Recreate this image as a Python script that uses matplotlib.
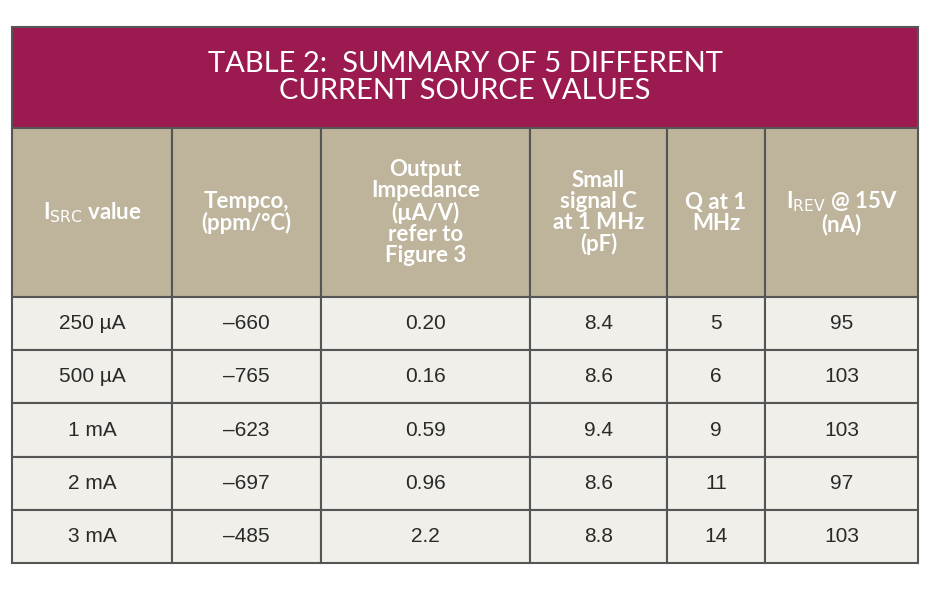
import matplotlib
matplotlib.use('Agg')
from matplotlib import pyplot as plt
from matplotlib.patches import Rectangle

title = 'TABLE 2:  SUMMARY OF 5 DIFFERENT\nCURRENT SOURCE VALUES'
headers = [r'I$_{\mathrm{SRC}}$ value', 'Tempco,\n(ppm/°C)', 'Output\nImpedance\n(µA/V)\nrefer to\nFigure 3',
           'Small\nsignal C\nat 1 MHz\n(pF)', 'Q at 1\nMHz', 'I$_{\\mathrm{REV}}$ @ 15V\n(nA)']
isrc = ['250 µA', '500 µA', '1 mA', '2 mA', '3 mA']
tempco = ['–660', '–765', '–623', '–697', '–485']
impedance = ['0.20', '0.16', '0.59', '0.96', '2.2']
cap = ['8.4', '8.6', '9.4', '8.6', '8.8']
q = ['5', '6', '9', '11', '14']
irev = ['95', '103', '103', '97', '103']
rows = list(zip(isrc, tempco, impedance, cap, q, irev))

col_x = [12, 172, 321, 530, 667, 765, 918]
top, title_bot, head_bot = 27, 128, 297
row_h = 53.2

fig = plt.figure(figsize=(9.44, 5.9), dpi=100)
ax = fig.add_axes([0, 0, 1, 1])
ax.set_xlim(0, 944)
ax.set_ylim(590, 0)
ax.axis('off')

line = '#555555'
ax.add_patch(Rectangle((col_x[0], top), col_x[-1] - col_x[0], title_bot - top, fc='#9b1a4f', ec=line, lw=1.5))
ax.text((col_x[0] + col_x[-1]) / 2, (top + title_bot) / 2, title, color='white', fontsize=21,
        family='Lato', ha='center', va='center', linespacing=1.05)

for i, h in enumerate(headers):
    ax.add_patch(Rectangle((col_x[i], title_bot), col_x[i + 1] - col_x[i], head_bot - title_bot,
                           fc='#bdb49b', ec=line, lw=1.5))
    ax.text((col_x[i] + col_x[i + 1]) / 2, (title_bot + head_bot) / 2, h, color='white', fontsize=16,
            family='Lato', weight='bold', ha='center', va='center', linespacing=1.0)

for r, vals in enumerate(rows):
    y0 = head_bot + r * row_h
    for i, v in enumerate(vals):
        ax.add_patch(Rectangle((col_x[i], y0), col_x[i + 1] - col_x[i], row_h, fc='#f0efea', ec=line, lw=1.5))
        ax.text((col_x[i] + col_x[i + 1]) / 2, y0 + row_h / 2, v, color='#2a2a2a', fontsize=15,
                family='Liberation Sans', ha='center', va='center')

fig.savefig('out.png', dpi=100, facecolor='white')
